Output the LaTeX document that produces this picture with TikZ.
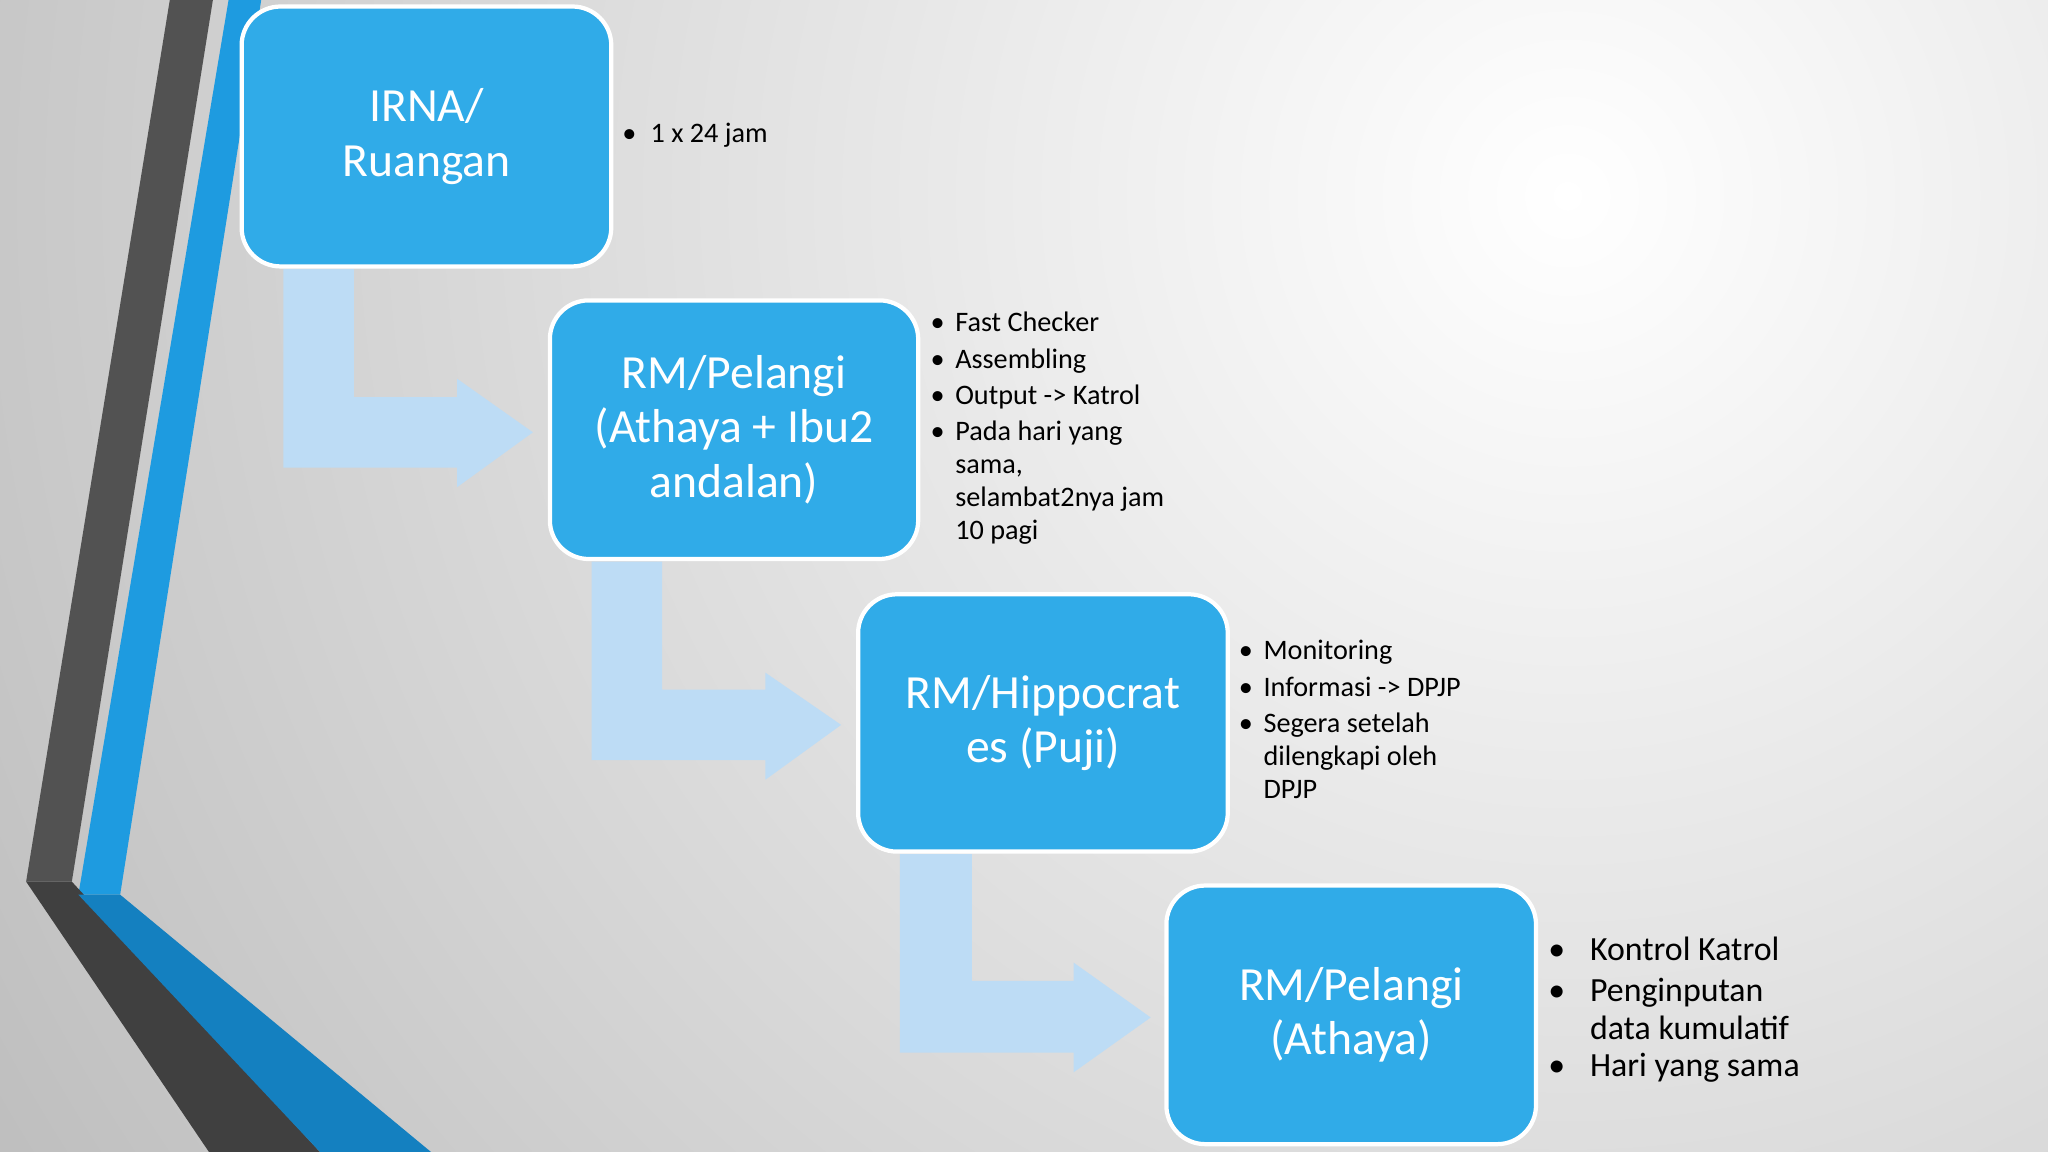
\documentclass[tikz,border=0pt]{standalone}
\usepackage{fontspec}
\usepackage{array}
\setmainfont{Carlito}
\definecolor{boxblue}{HTML}{30ABE8}
\definecolor{arrblue}{HTML}{BDDCF5}
\definecolor{stripe}{HTML}{1E9BE0}
\definecolor{darkblue}{HTML}{1480C0}
\newcolumntype{R}[1]{>{\raggedright\arraybackslash}p{#1}}
\begin{document}
\begin{tikzpicture}[x=0.3703pt,y=-0.3703pt,
  boxshape/.style={draw=white,line width=1.2pt,fill=boxblue,rounded corners=11pt},
  boxtext/.style={text=white,font=\fontsize{13.5}{15.5}\selectfont,align=center,inner sep=0pt},
  bent/.style={fill=arrblue,draw=none},
  notes/.style={anchor=north west,font=\fontsize{8}{9.3}\selectfont,align=left,inner sep=0pt}]
\useasboundingbox (0,0) rectangle (1568,882);
\begin{scope}
\clip (0,0) rectangle (1568,882);
\shade[inner color=white,outer color=black!27] (1200,150) circle (1500);
\end{scope}
% left decoration
\fill[black!68] (130,0) -- (163,0) -- (55,675) -- (20,675) -- cycle;
\fill[stripe] (175,0) -- (200,0) -- (92,685) -- (60,685) -- cycle;
\fill[black!75] (20,675) -- (55,675) -- (245,882) -- (160,882) -- cycle;
\fill[darkblue] (60,685) -- (92,685) -- (330,882) -- (245,882) -- cycle;
% boxes
\draw[boxshape] (185,5) rectangle (468,204);
\draw[boxshape] (421,230) rectangle (703,428);
\draw[boxshape] (657,455) rectangle (940,652);
\draw[boxshape] (893,678) rectangle (1176,876);
\node[boxtext] (b1) at (326.5,104.5) {IRNA/\\Ruangan};
\node[boxtext] (b2) at (562,329) {RM/Pelangi\\(Athaya + Ibu2\\andalan)};
\node[boxtext] (b3) at (798.5,553.5) {RM/Hippocrat\\es (Puji)};
\node[boxtext] (b4) at (1034.5,777) {RM/Pelangi\\(Athaya)};
% bent arrows
\fill[bent] (217,206) -- (271,206) -- (271,304) -- (350,304) -- (350,290) -- (408,331) -- (350,373) -- (350,358) -- (217,358) -- cycle;
\fill[bent] (453,430) -- (507,430) -- (507,528) -- (586,528) -- (586,515) -- (644,555) -- (586,597) -- (586,582) -- (453,582) -- cycle;
\fill[bent] (689,654) -- (744,654) -- (744,751) -- (822,751) -- (822,737) -- (881,779) -- (822,821) -- (822,806) -- (689,806) -- cycle;
% notes
\node[notes] (n1) at (476,94) {\textbullet\hspace{4pt}1 x 24 jam};
\node[notes] (n2) at (712,236) {\begin{tabular}{@{}l@{\hspace{3pt}}R{66pt}@{}}
\textbullet & Fast Checker\\[1pt]
\textbullet & Assembling\\[1pt]
\textbullet & Output -> Katrol\\[1pt]
\textbullet & Pada hari yang sama, selambat2nya jam 10 pagi\end{tabular}};
\node[notes] (n3) at (948,487) {\begin{tabular}{@{}l@{\hspace{3pt}}R{60pt}@{}}
\textbullet & Monitoring\\[1pt]
\textbullet & Informasi -> DPJP\\[1pt]
\textbullet & Segera setelah dilengkapi oleh DPJP\end{tabular}};
\node[notes,font=\fontsize{9.6}{10.6}\selectfont] (n4) at (1185,715) {\begin{tabular}{@{}l@{\hspace{7pt}}R{64pt}@{}}
\textbullet & Kontrol Katrol\\[1pt]
\textbullet & Penginputan data kumulatif\\[1pt]
\textbullet & Hari yang sama\end{tabular}};
\end{tikzpicture}
\end{document}
